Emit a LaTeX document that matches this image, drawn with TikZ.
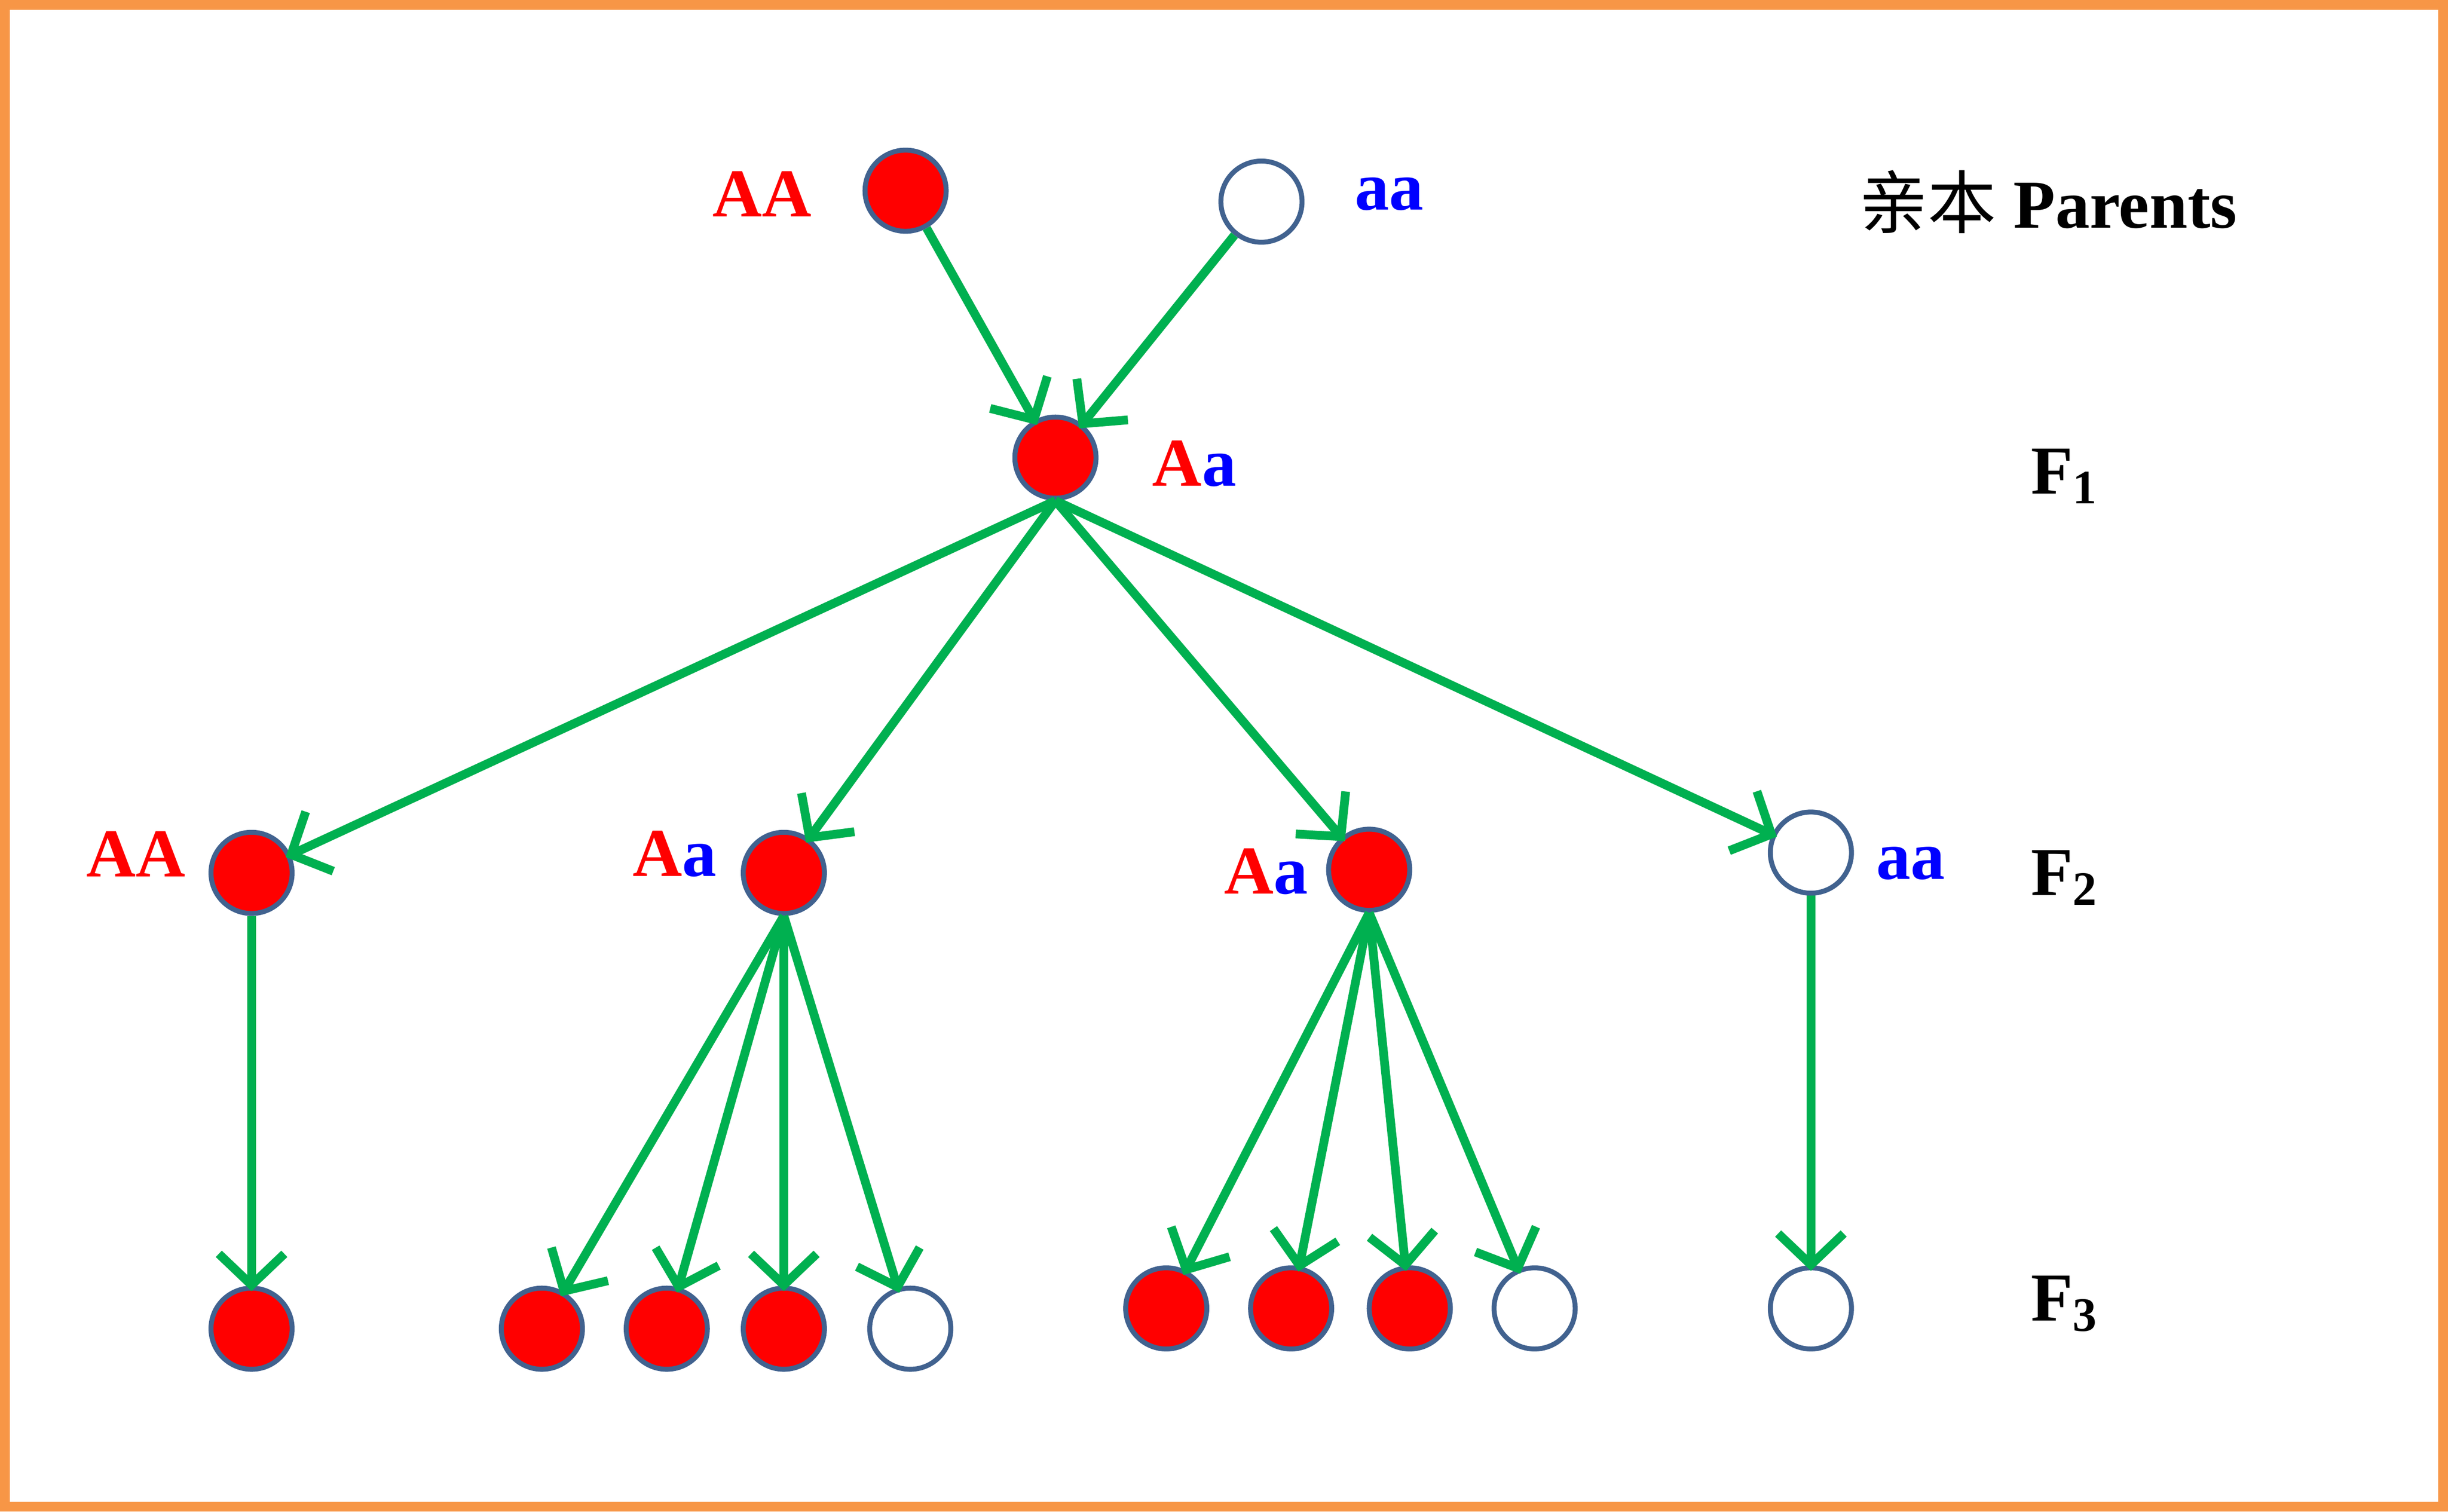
\documentclass[tikz,border=0pt]{standalone}
\usepackage{fontspec}
\setmainfont{Liberation Serif}
\newfontfamily\cjk{Noto Sans CJK SC}
\usetikzlibrary{arrows.meta}
\definecolor{gr}{HTML}{00B050}
\definecolor{ed}{HTML}{41628F}
\definecolor{org}{HTML}{F79646}
\definecolor{bl}{HTML}{0000FF}
\begin{document}
\begin{tikzpicture}[x=0.1mm,y=-0.1mm,
  red/.style={circle,draw=ed,line width=0.9pt,fill=red,minimum size=5.2mm,inner sep=0pt},
  wht/.style={circle,draw=ed,line width=0.9pt,fill=white,minimum size=5.2mm,inner sep=0pt},
  arr/.style={draw=gr,line width=1.6pt,shorten >=-1pt,-{Straight Barb[length=2mm,width=4.2mm]}},
  lab/.style={font=\fontsize{12.5}{15}\selectfont\bfseries,inner sep=0pt}]
\draw[org,line width=1.8pt,fill=white] (3,3) rectangle (1565,965);
\node[red] (p1) at (580,122) {};
\node[wht] (p2) at (808,129) {};
\node[red] (f1) at (676,293) {};
\node[red] (a) at (161,559) {};
\node[red] (b) at (502,559) {};
\node[red] (c) at (877,557) {};
\node[wht] (d) at (1160,546) {};
\node[red] (a1) at (161,851) {};
\node[red] (b1) at (347,851) {};
\node[red] (b2) at (427,851) {};
\node[red] (b3) at (502,851) {};
\node[wht] (b4) at (583,851) {};
\node[red] (c1) at (747,838) {};
\node[red] (c2) at (827,838) {};
\node[red] (c3) at (903,838) {};
\node[wht] (c4) at (983,838) {};
\node[wht] (d1) at (1160,838) {};
\draw[arr] (p1) -- (f1);
\draw[arr] (p2) -- (f1);
\foreach \t in {a,b,c,d} \draw[arr] (f1.south) -- (\t);
\draw[arr] (a) -- (a1);
\foreach \t in {b1,b2,b3,b4} \draw[arr] (b.south) -- (\t);
\foreach \t in {c1,c2,c3,c4} \draw[arr] (c.south) -- (\t);
\draw[arr] (d) -- (d1);
\node[lab,text=red] (l1) at (488,124) {AA};
\node[lab,text=bl] (l2) at (890,124) {aa};
\node[lab] (l3) at (765,297) {\textcolor{red}{A}\textcolor{bl}{a}};
\node[lab] (l4) at (87,547) {\textcolor{red}{AA}};
\node[lab] (l5) at (432,547) {\textcolor{red}{A}\textcolor{bl}{a}};
\node[lab] (l6) at (811,558) {\textcolor{red}{A}\textcolor{bl}{a}};
\node[lab,text=bl] (l7) at (1224,553) {aa};
\node[lab] (t0) at (1312,129) {{\cjk\mdseries 亲本} Parents};
\node[lab] (t1) at (1323,305) {F\textsubscript{1}};
\node[lab] (t2) at (1323,562) {F\textsubscript{2}};
\node[lab] (t3) at (1323,835) {F\textsubscript{3}};
\end{tikzpicture}
\end{document}
